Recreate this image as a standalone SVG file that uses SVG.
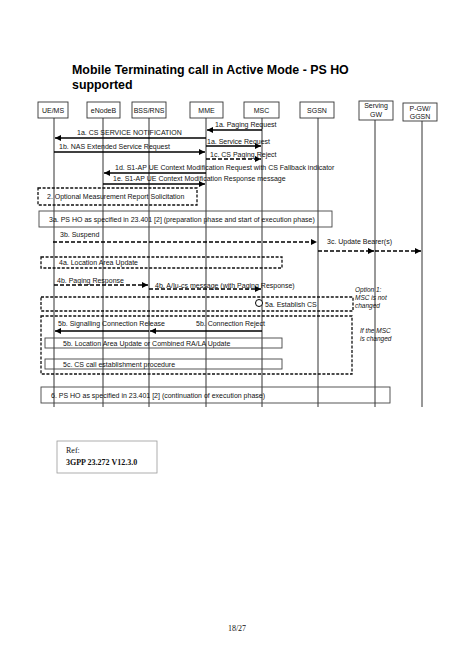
<svg xmlns="http://www.w3.org/2000/svg" width="474" height="670" viewBox="0 0 474 670">
<defs>
<marker id="ah" viewBox="0 0 10 10" refX="10" refY="5" markerWidth="4" markerHeight="4" orient="auto" markerUnits="strokeWidth"><path d="M0,0 L10,5 L0,10 z" fill="#000"/></marker>
</defs>
<style>
.t{font-family:"Liberation Sans",Arial,sans-serif;font-size:7px;fill:#111}
.it{font-family:"Liberation Sans",Arial,sans-serif;font-size:6.5px;font-style:italic;fill:#111}
.hd{fill:#fff;stroke:#333;stroke-width:0.9}
.ht{font-family:"Liberation Sans",Arial,sans-serif;font-size:7px;fill:#111;text-anchor:middle}
.ll{stroke:#333;stroke-width:1}
.m{stroke:#000;stroke-width:1.6;fill:none;marker-end:url(#ah)}
.md{stroke:#000;stroke-width:1.6;fill:none;stroke-dasharray:4,2;marker-end:url(#ah)}
.bx{fill:none;stroke:#444;stroke-width:0.9}
.db{fill:none;stroke:#111;stroke-width:1.3;stroke-dasharray:3,1.6}
.title{font-family:"Liberation Sans",Arial,sans-serif;font-size:12.4px;font-weight:bold;fill:#000}
.serif{font-family:"Liberation Serif","Times New Roman",serif;font-size:8px;fill:#111}
</style>
<rect width="474" height="670" fill="#fff"/>
<text class="title" x="72" y="74">Mobile Terminating call in Active Mode - PS HO</text>
<text class="title" x="72" y="89">supported</text>

<g id="lifelines">
<line class="ll" x1="54" y1="118" x2="54" y2="407"/>
<line class="ll" x1="103" y1="118" x2="103" y2="407"/>
<line class="ll" x1="149" y1="118" x2="149" y2="407"/>
<line class="ll" x1="206" y1="118" x2="206" y2="407"/>
<line class="ll" x1="262" y1="118" x2="262" y2="407"/>
<line class="ll" x1="318" y1="118" x2="318" y2="407"/>
<line class="ll" x1="375" y1="120" x2="375" y2="407"/>
<line class="ll" x1="422" y1="121" x2="422" y2="407"/>
</g>

<g id="n-uems"><rect class="hd" x="38" y="102" width="30" height="16"/><text class="ht" x="53" y="112.5">UE/MS</text></g>
<g id="n-enodeb"><rect class="hd" x="87" y="102" width="33" height="16"/><text class="ht" x="103.5" y="112.5">eNodeB</text></g>
<g id="n-bss"><rect class="hd" x="132" y="102" width="34" height="16"/><text class="ht" x="149" y="112.5">BSS/RNS</text></g>
<g id="n-mme"><rect class="hd" x="190" y="102" width="33" height="16"/><text class="ht" x="206.5" y="112.5">MME</text></g>
<g id="n-msc"><rect class="hd" x="244" y="102" width="35" height="16"/><text class="ht" x="261.5" y="112.5">MSC</text></g>
<g id="n-sgsn"><rect class="hd" x="300" y="102" width="34" height="16"/><text class="ht" x="317" y="112.5">SGSN</text></g>
<g id="n-sgw"><rect class="hd" x="359" y="101" width="34" height="19"/><text class="ht" x="376" y="108">Serving</text><text class="ht" x="376" y="116.5">GW</text></g>
<g id="n-pgw"><rect class="hd" x="403" y="103" width="34" height="18"/><text class="ht" x="420" y="110.5">P-GW/</text><text class="ht" x="420" y="119">GGSN</text></g>

<g id="connectors">
<line class="m" x1="262" y1="130" x2="207" y2="130"/>
<line class="m" x1="206" y1="138" x2="55" y2="138"/>
<line class="m" x1="206" y1="146" x2="261" y2="146"/>
<line class="m" x1="54" y1="152" x2="205" y2="152"/>
<line class="md" x1="206" y1="159" x2="261" y2="159"/>
<line class="m" x1="206" y1="173" x2="104" y2="173"/>
<line class="m" x1="103" y1="184" x2="205" y2="184"/>
<line class="md" x1="53" y1="242" x2="317" y2="242"/>
<line class="md" x1="318" y1="251" x2="374" y2="251"/>
<line class="md" x1="375" y1="251" x2="421" y2="251"/>
<line class="md" x1="54" y1="285" x2="148" y2="285"/>
<line class="md" x1="149" y1="289" x2="261" y2="289"/>
<line class="m" x1="149" y1="331" x2="55" y2="331"/>
<line class="m" x1="262" y1="331" x2="150" y2="331"/>
</g>

<g id="labels">
<text class="t" x="215" y="127">1a. Paging Request</text>
<text class="t" x="77" y="135">1a. CS SERVICE NOTIFICATION</text>
<text class="t" x="207" y="143.5">1a. Service Request</text>
<text class="t" x="59" y="149">1b. NAS Extended Service Request</text>
<text class="t" x="210" y="157">1c. CS Paging Reject</text>
<text class="t" x="115" y="170">1d. S1-AP UE Context Modification Request with CS Fallback indicator</text>
<text class="t" x="113" y="181">1e. S1-AP UE Context Modification Response message</text>
<text class="t" x="60" y="237">3b. Suspend</text>
<text class="t" x="327" y="244">3c. Update Bearer(s)</text>
<text class="t" x="57" y="283">4b. Paging Response</text>
<text class="t" x="155" y="288">4b. A/Iu-cs message (with Paging Response)</text>
<text class="t" x="58" y="325.5">5b. Signalling Connection Release</text>
<text class="t" x="196" y="325.5">5b. Connection Reject</text>
</g>

<g id="box2"><rect class="db" x="38" y="188" width="159" height="17"/><text class="t" x="47" y="199">2. Optional Measurement Report Solicitation</text></g>
<g id="box3a"><rect class="bx" x="39" y="211" width="293" height="16"/><text class="t" x="49" y="222">3a. PS HO as specified in 23.401 [2] (preparation phase and start of execution phase)</text></g>
<g id="box4a"><rect class="db" x="41" y="257" width="241" height="11"/><text class="t" x="59" y="265">4a. Location Area Update</text></g>
<g id="box5a"><rect class="db" x="41" y="297" width="312" height="14"/><circle cx="259" cy="303" r="3.5" fill="#fff" stroke="#000" stroke-width="1"/><text class="t" x="265" y="307">5a. Establish CS</text></g>
<g id="opt1"><text class="it" x="355" y="292">Option 1:</text><text class="it" x="355" y="300">MSC is not</text><text class="it" x="355" y="308">changed</text></g>
<g id="box5"><rect class="db" x="41" y="316" width="311" height="58"/></g>
<g id="opt2"><text class="it" x="360" y="333">If the MSC</text><text class="it" x="360" y="341">is changed</text></g>
<g id="box5b"><rect class="bx" x="45" y="338" width="237" height="10"/><text class="t" x="63" y="346">5b. Location Area Update or Combined RA/LA Update</text></g>
<g id="box5c"><rect class="bx" x="45" y="359" width="237" height="10"/><text class="t" x="63" y="367">5c. CS call establishment procedure</text></g>
<g id="box6"><rect class="bx" x="41" y="387" width="349" height="16"/><text class="t" x="51" y="398">6. PS HO as specified in 23.401 [2] (continuation of execution phase)</text></g>

<g id="ref"><rect x="57" y="441" width="100" height="32" fill="#fff" stroke="#999" stroke-width="0.8"/><text class="serif" x="66" y="453">Ref:</text><text class="serif" x="66" y="465" font-weight="bold">3GPP 23.272 V12.3.0</text></g>
<text class="serif" x="237" y="631" text-anchor="middle">18/27</text>
</svg>
